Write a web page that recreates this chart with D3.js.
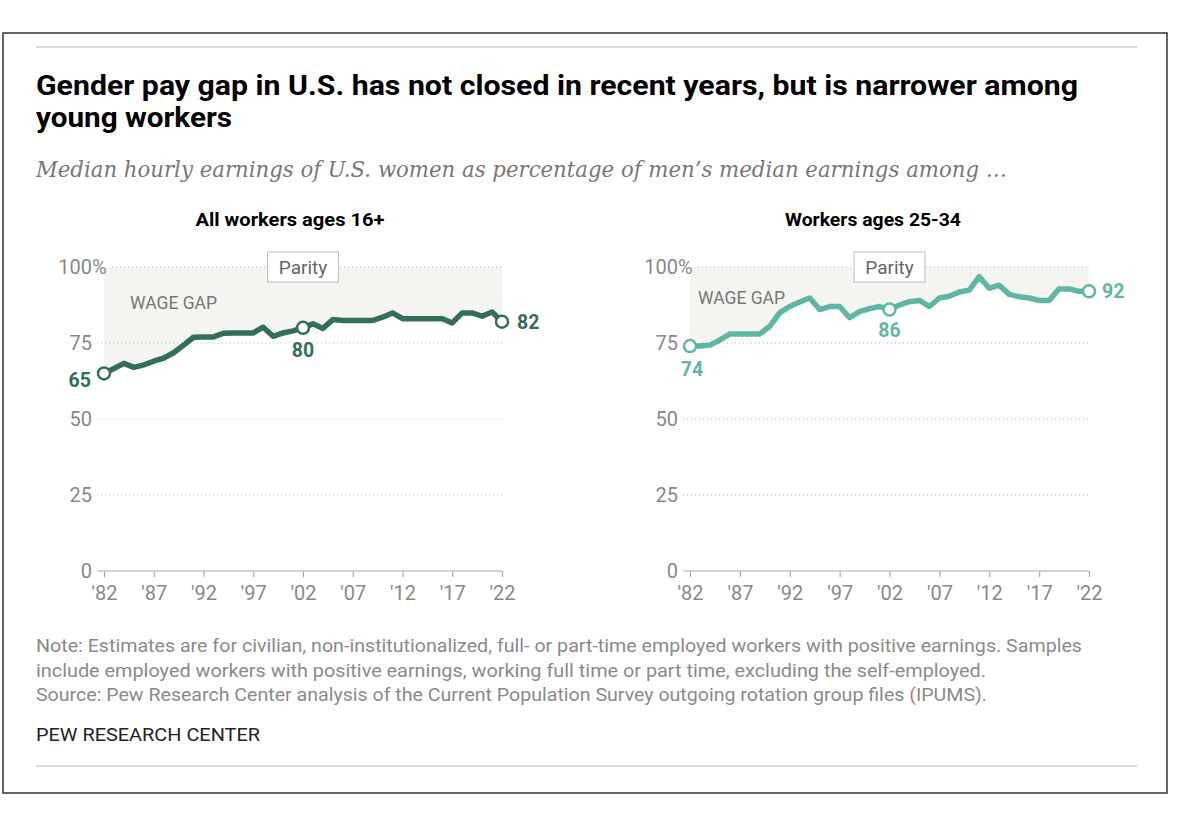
<!DOCTYPE html>
<html>
<head>
<meta charset="utf-8">
<script src="https://cdn.jsdelivr.net/npm/d3@7"></script>
<style>
  body { margin: 0; background: #fff; }
  svg { display: block; font-family: Roboto, "Liberation Sans", sans-serif; }
</style>
</head>
<body>
<svg id="chart" width="1200" height="827"></svg>
<script>
// years on the x axis, one value per year
const years = d3.range(1982, 2023);
const tickYears = [1982, 1987, 1992, 1997, 2002, 2007, 2012, 2017, 2022];
const tickLabels = ["'82", "'87", "'92", "'97", "'02", "'07", "'12", "'17", "'22"];
const yTicks = [0, 25, 50, 75, 100];

// women's median hourly earnings as % of men's, all workers 16+
const allWorkers = [65, 66.6, 68.3, 67, 67.8, 69, 70, 71.8, 74.3, 76.9,
  77, 77, 78.2, 78.3, 78.3, 78.3, 80.2, 77.2, 78.3, 79,
  80, 81.3, 79.8, 82.7, 82.4, 82.4, 82.4, 82.4, 83.5, 84.9,
  83, 83, 83, 83, 83, 81.6, 84.9, 84.9, 83.8, 85.2, 82];

// same, workers ages 25-34
const youngWorkers = [74, 74, 74.3, 76, 78, 78, 78, 78, 80.5, 85,
  87, 88.5, 89.8, 86, 87, 87, 83.3, 85.3, 86.3, 87,
  86, 87.5, 88.6, 89, 87, 89.8, 90.4, 91.8, 92.4, 96.8,
  93, 94, 91, 90.2, 89.8, 89, 89, 92.8, 92.8, 92, 92];

// labelled years with their printed labels
const markedYears = [1982, 2002, 2022];
const allLabels = ["65", "80", "82"];
const youngLabels = ["74", "86", "92"];

const svg = d3.select("#chart");

// fit a text element to a given width
function fit(sel, w) {
  sel.attr("textLength", w).attr("lengthAdjust", "spacingAndGlyphs");
}

// frame
svg.append("rect").attr("x", 3).attr("y", 33).attr("width", 1164).attr("height", 760)
  .attr("fill", "#fff").attr("stroke", "#333").attr("stroke-width", 1.5);
svg.append("line").attr("x1", 36).attr("x2", 1137).attr("y1", 47).attr("y2", 47)
  .attr("stroke", "#ccc").attr("stroke-width", 1.5);
svg.append("line").attr("x1", 36).attr("x2", 1137).attr("y1", 766).attr("y2", 766)
  .attr("stroke", "#ccc").attr("stroke-width", 1.5);

// title + subtitle
svg.append("text").attr("x", 36).attr("y", 95)
  .attr("font-size", 27).attr("font-weight", 700).attr("fill", "#000")
  .text("Gender pay gap in U.S. has not closed in recent years, but is narrower among")
  .call(fit, 1042);
svg.append("text").attr("x", 36).attr("y", 127)
  .attr("font-size", 27).attr("font-weight", 700).attr("fill", "#000")
  .text("young workers")
  .call(fit, 196);
svg.append("text").attr("x", 36).attr("y", 177)
  .attr("font-family", "'DejaVu Serif', serif").attr("font-style", "italic")
  .attr("font-size", 22).attr("fill", "#777")
  .text("Median hourly earnings of U.S. women as percentage of men\u2019s median earnings among \u2026")
  .call(fit, 971);

// notes
const notes = [
  ["Note: Estimates are for civilian, non-institutionalized, full- or part-time employed workers with positive earnings. Samples", 1046],
  ["include employed workers with positive earnings, working full time or part time, excluding the self-employed.", 950],
  ["Source: Pew Research Center analysis of the Current Population Survey outgoing rotation group files (IPUMS).", 951]
];
notes.forEach((n, i) => {
  svg.append("text").attr("x", 36).attr("y", 652 + i * 24.5)
    .attr("font-size", 17.5).attr("fill", "#8a8a8a")
    .text(n[0]).call(fit, n[1]);
});
svg.append("text").attr("x", 36).attr("y", 741)
  .attr("font-size", 19).attr("fill", "#222")
  .text("PEW RESEARCH CENTER").call(fit, 224);

/**
 * Draws one panel: shaded gap, grid, axes, line and labels
 */
function drawPanel(p) {
  const x = d3.scaleLinear().domain([1982, 2022]).range([p.x0, p.x1]);
  const y = d3.scaleLinear().domain([0, 100]).range([571, 267]);
  const g = svg.append("g");
  const pts = years.map((yr, i) => ({ yr: yr, v: p.values[i] }));

  g.append("text").attr("x", p.titleX).attr("y", 226).attr("text-anchor", "middle")
    .attr("font-size", 19).attr("font-weight", 700).attr("fill", "#000").text(p.title)
    .call(fit, p.titleW);

  // wage gap shading between line and parity
  let area = d3.area().x(d => x(d.yr)).y0(y(100)).y1(d => y(d.v));
  g.append("path").datum(pts).attr("d", area).attr("fill", "#f4f4f1");

  // dotted gridlines
  g.selectAll(".grid").data([25, 50, 75, 100]).enter().append("line")
    .attr("x1", d => d == 100 ? p.x0 + 8 : p.x0 - 7).attr("x2", p.x1)
    .attr("y1", d => y(d)).attr("y2", d => y(d))
    .attr("stroke", "#b3b3b3").attr("stroke-width", 1.2).attr("stroke-dasharray", "1,3");

  // y labels
  let yAxis = g.append("g").attr("transform", "translate(" + p.x0 + ",0)")
    .call(d3.axisLeft(y).tickValues(yTicks).tickSize(0).tickPadding(12));
  yAxis.select(".domain").remove();
  yAxis.selectAll("text").attr("font-size", 20).attr("fill", "#888")
    .attr("font-family", "Roboto, sans-serif");
  yAxis.selectAll(".tick").filter(d => d == 100).select("text").each(function () {
    let t = d3.select(this);
    let w = this.getComputedTextLength();
    t.attr("text-anchor", "start").attr("x", -12 - w);
    t.append("tspan").text("%");
  });

  // x axis baseline and ticks
  g.append("line").attr("x1", p.x0 - 7).attr("x2", p.x1).attr("y1", y(0)).attr("y2", y(0))
    .attr("stroke", "#aaa").attr("stroke-width", 1.2);
  let xAxis = g.append("g").attr("transform", "translate(0," + y(0) + ")")
    .call(d3.axisBottom(x).tickValues(tickYears).tickSize(6).tickPadding(9)
      .tickFormat((d, i) => tickLabels[i]));
  xAxis.select(".domain").remove();
  xAxis.selectAll("line").attr("stroke", "#aaa").attr("stroke-width", 1.2);
  xAxis.selectAll("text").attr("font-size", 20).attr("fill", "#888")
    .attr("font-family", "Roboto, sans-serif");

  // parity box
  let px = x(2002);
  g.append("rect").attr("x", px - 35.5).attr("y", y(100) - 15).attr("width", 71).attr("height", 30)
    .attr("fill", "#fff").attr("stroke", "#bbb").attr("stroke-width", 1);
  g.append("text").attr("x", px).attr("y", y(100) + 6.5).attr("text-anchor", "middle")
    .attr("font-size", 19).attr("fill", "#666").text("Parity");

  g.append("text").attr("x", p.gapX).attr("y", p.gapY)
    .attr("font-size", 17.5).attr("fill", "#777").text("WAGE GAP");

  // the line
  let line = d3.line().x(d => x(d.yr)).y(d => y(d.v));
  g.append("path").datum(pts).attr("d", line).attr("fill", "none")
    .attr("stroke", p.color).attr("stroke-width", 5.5)
    .attr("stroke-linejoin", "round").attr("stroke-linecap", "round");

  // marked points
  let marks = markedYears.map((yr, i) => ({ yr: yr, v: p.values[years.indexOf(yr)], label: p.labels[i], pos: p.labelPos[i] }));
  g.selectAll(".mark").data(marks).enter().append("circle")
    .attr("cx", d => x(d.yr)).attr("cy", d => y(d.v)).attr("r", 6)
    .attr("fill", "#fff").attr("stroke", p.color).attr("stroke-width", 2.5);
  g.selectAll(".lbl").data(marks).enter().append("text")
    .attr("x", d => x(d.yr) + d.pos[0]).attr("y", d => y(d.v) + d.pos[1])
    .attr("text-anchor", d => d.pos[2])
    .attr("font-size", 19.5).attr("font-weight", 700).attr("fill", p.color)
    .text(d => d.label);
}

drawPanel({
  title: "All workers ages 16+", titleX: 290, titleW: 189,
  x0: 104, x1: 502, values: allWorkers, labels: allLabels, color: "#326e5b",
  gapX: 130, gapY: 309,
  labelPos: [[-13, 14, "end"], [0, 29, "middle"], [15, 7, "start"]]
});
drawPanel({
  title: "Workers ages 25-34", titleX: 873, titleW: 176,
  x0: 690, x1: 1089, values: youngWorkers, labels: youngLabels, color: "#5db7a4",
  gapX: 698, gapY: 304,
  labelPos: [[2, 30, "middle"], [0, 27, "middle"], [13, 7, "start"]]
});
</script>
</body>
</html>
